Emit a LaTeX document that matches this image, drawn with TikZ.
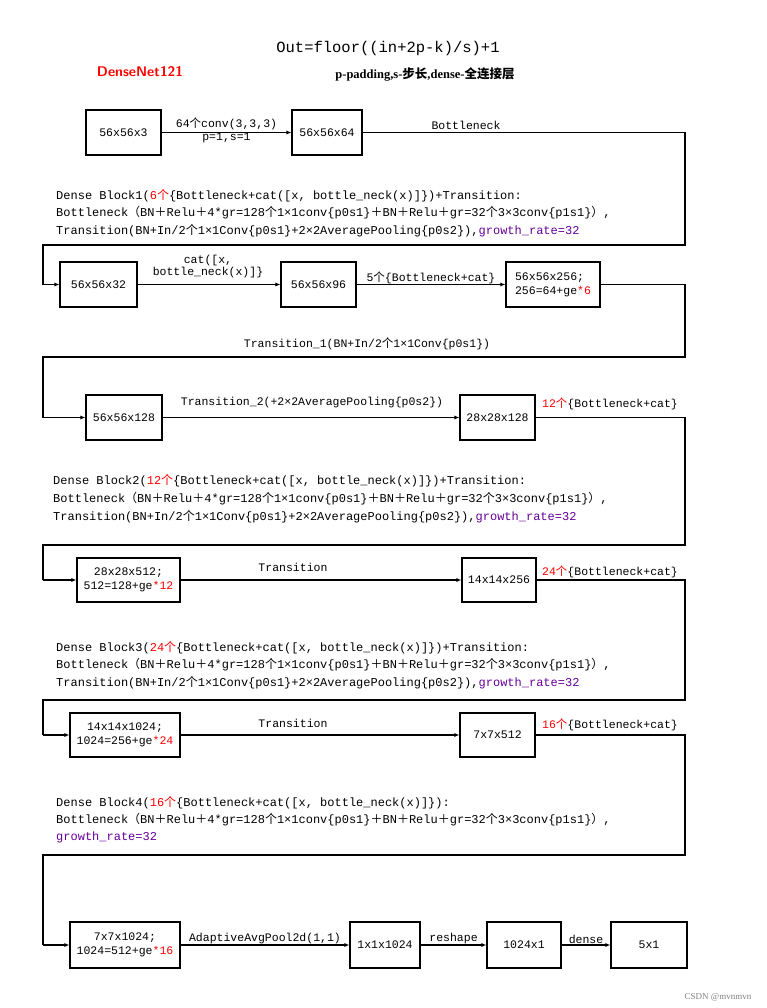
\documentclass[tikz,border=0pt]{standalone}
\usepackage{fontspec}
\setmainfont{Liberation Serif}
\newfontfamily\cjk{Noto Sans CJK SC}
\newfontfamily\mono{Liberation Mono}
\usetikzlibrary{arrows.meta}
\newcommand{\g}{{\cjk 个}}
\newcommand{\rd}[1]{\textcolor{red}{#1}}
\newcommand{\pu}[1]{\textcolor{violet!80!blue}{#1}}
\begin{document}
\begin{tikzpicture}[x=1pt,y=-1pt,
  bx/.style={draw,line width=1.1pt,minimum width=75pt,minimum height=45pt,inner sep=1pt,font=\mono\fontsize{11.5}{14}\selectfont,align=center},
  lbl/.style={font=\mono\fontsize{11.5}{12}\selectfont,inner sep=1pt},
  txt/.style={font=\mono\fontsize{12}{12}\selectfont,anchor=west,inner sep=0pt},
  ln/.style={line width=1.1pt},
  ar/.style={line width=1.1pt,-{Latex[length=5pt,width=4pt]}}]
\useasboundingbox (0,0) rectangle (766,1008);
\fill[white] (0,0) rectangle (766,1008);
\node[font=\mono\fontsize{15.5}{16}\selectfont] (title) at (388,48) {Out=floor((in+2p-k)/s)+1};
\node[font=\bfseries\sffamily\fontsize{14}{14}\selectfont,text=red] (dn) at (140,72) {DenseNet121};
\node[font=\bfseries\fontsize{12.5}{13}\selectfont] (sub) at (425,74) {p-padding,s-{\cjk\bfseries 步长},dense-{\cjk\bfseries 全连接层}};
% row 1
\node[bx] (A) at (123.5,132.5) {56x56x3};
\node[bx,minimum width=70pt] (B) at (327,132.5) {56x56x64};
\draw[ar] (A) -- (B) node[lbl,midway,above=1pt] {64\g conv(3,3,3)} node[lbl,midway,below=-1pt] {p=1,s=1};
\coordinate (c1) at (685,132.5); \coordinate (c2) at (685,245); \coordinate (c3) at (43,245);
\draw[ln] (B.east) -- (c1) -- (c2) -- (c3) -- (43,284.5);
\node[lbl] (bn) at (466,125) {Bottleneck};
\node[txt] (t11) at (56,196) {Dense Block1(\rd{6\g}\{Bottleneck+cat([x, bottle\_neck(x)]\})+Transition:};
\node[txt] (t12) at (56,213) {Bottleneck{\cjk（}BN{\cjk ＋}Relu{\cjk ＋}4*gr=128\g 1×1conv\{p0s1\}{\cjk ＋}BN{\cjk ＋}Relu{\cjk ＋}gr=32\g 3×3conv\{p1s1\}{\cjk ）},};
\node[txt] (t13) at (56,231) {Transition(BN+In/2\g 1×1Conv\{p0s1\}+2×2AveragePooling\{p0s2\}),\pu{growth\_rate=32}};
% row 2
\node[bx,minimum width=77pt] (C) at (98.5,284.5) {56x56x32};
\draw[ar] (43,284.5) -- (C.west);
\node[bx] (D) at (318.5,284.5) {56x56x96};
\node[bx,minimum width=94pt,align=left] (E) at (553,284.5) {56x56x256;\\256=64+ge\rd{*6}};
\draw[ar] (C) -- (D);
\node[lbl,align=center] (catl) at (208,267) {cat([x,\\bottle\_neck(x)]\}};
\draw[ar] (D) -- (E) node[lbl,midway,above=-1pt] {5\g\{Bottleneck+cat\}};
\coordinate (d1) at (685,284.5); \coordinate (d2) at (685,357); \coordinate (d3) at (43,357);
\draw[ln] (E.east) -- (d1) -- (d2) -- (d3) -- (43,417.5);
\node[lbl] (tr1) at (367,344) {Transition\_1(BN+In/2\g 1×1Conv\{p0s1\})};
% row 3
\node[bx,minimum width=76pt] (F) at (124,417.5) {56x56x128};
\draw[ar] (43,417.5) -- (F.west);
\node[bx] (G) at (497.5,417.5) {28x28x128};
\draw[ar] (F) -- (G);
\node[lbl] (tr2) at (312,403) {Transition\_2(+2×2AveragePooling\{p0s2\})};
\node[lbl] (g12) at (610,404) {\rd{12\g}\{Bottleneck+cat\}};
\coordinate (e1) at (685,417.5); \coordinate (e2) at (685,545); \coordinate (e3) at (43,545);
\draw[ln] (G.east) -- (e1) -- (e2) -- (e3) -- (43,580);
\node[txt] (t21) at (53,481) {Dense Block2(\rd{12\g}\{Bottleneck+cat([x, bottle\_neck(x)]\})+Transition:};
\node[txt] (t22) at (53,499) {Bottleneck{\cjk（}BN{\cjk ＋}Relu{\cjk ＋}4*gr=128\g 1×1conv\{p0s1\}{\cjk ＋}BN{\cjk ＋}Relu{\cjk ＋}gr=32\g 3×3conv\{p1s1\}{\cjk ）},};
\node[txt] (t23) at (53,517) {Transition(BN+In/2\g 1×1Conv\{p0s1\}+2×2AveragePooling\{p0s2\}),\pu{growth\_rate=32}};
% row 4
\node[bx,minimum width=103pt,minimum height=44pt] (H) at (128.5,580) {28x28x512;\\512=128+ge\rd{*12}};
\draw[ar] (43,580) -- (H.west);
\node[bx,minimum width=74pt,minimum height=44pt] (I) at (499,580) {14x14x256};
\draw[ar] (H) -- (I);
\node[lbl] (trA) at (293,567) {Transition};
\node[lbl] (g24) at (610,572) {\rd{24\g}\{Bottleneck+cat\}};
\coordinate (f1) at (685,580); \coordinate (f2) at (685,700); \coordinate (f3) at (43,700);
\draw[ln] (I.east) -- (f1) -- (f2) -- (f3) -- (43,735);
\node[txt] (t31) at (56,648) {Dense Block3(\rd{24\g}\{Bottleneck+cat([x, bottle\_neck(x)]\})+Transition:};
\node[txt] (t32) at (56,665) {Bottleneck{\cjk（}BN{\cjk ＋}Relu{\cjk ＋}4*gr=128\g 1×1conv\{p0s1\}{\cjk ＋}BN{\cjk ＋}Relu{\cjk ＋}gr=32\g 3×3conv\{p1s1\}{\cjk ）},};
\node[txt] (t33) at (56,683) {Transition(BN+In/2\g 1×1Conv\{p0s1\}+2×2AveragePooling\{p0s2\}),\pu{growth\_rate=32}};
% row 5
\node[bx,minimum width=110pt,minimum height=44pt] (J) at (125,735) {14x14x1024;\\1024=256+ge\rd{*24}};
\draw[ar] (43,735) -- (J.west);
\node[bx,minimum width=75pt,minimum height=44pt] (K) at (497.5,735) {7x7x512};
\draw[ar] (J) -- (K);
\node[lbl] (trB) at (293,723) {Transition};
\node[lbl] (g16) at (610,725) {\rd{16\g}\{Bottleneck+cat\}};
\coordinate (h1) at (685,735); \coordinate (h2) at (685,855); \coordinate (h3) at (43,855);
\draw[ln] (K.east) -- (h1) -- (h2) -- (h3) -- (43,945);
\node[txt] (t41) at (56,803) {Dense Block4(\rd{16\g}\{Bottleneck+cat([x, bottle\_neck(x)]\}):};
\node[txt] (t42) at (56,820) {Bottleneck{\cjk（}BN{\cjk ＋}Relu{\cjk ＋}4*gr=128\g 1×1conv\{p0s1\}{\cjk ＋}BN{\cjk ＋}Relu{\cjk ＋}gr=32\g 3×3conv\{p1s1\}{\cjk ）},};
\node[txt] (t43) at (56,837) {\pu{growth\_rate=32}};
% row 6
\node[bx,minimum width=110pt,minimum height=46pt] (L) at (125,945) {7x7x1024;\\1024=512+ge\rd{*16}};
\draw[ar] (43,945) -- (L.west);
\node[bx,minimum width=70pt,minimum height=46pt] (M) at (385,945) {1x1x1024};
\node[bx,minimum width=74pt,minimum height=46pt] (N) at (524,945) {1024x1};
\node[bx,minimum width=76pt,minimum height=46pt] (O) at (649,945) {5x1};
\draw[ar] (L) -- (M) node[lbl,midway,above=0pt] {AdaptiveAvgPool2d(1,1)};
\draw[ar] (M) -- (N) node[lbl,midway,above=0pt] {reshape};
\draw[ar] (N) -- (O) node[lbl,midway,above=0pt] {dense};
\node[font=\fontsize{9}{10}\selectfont,text=gray] (csdn) at (718,997) {CSDN @mvnmvn};
\end{tikzpicture}
\end{document}
